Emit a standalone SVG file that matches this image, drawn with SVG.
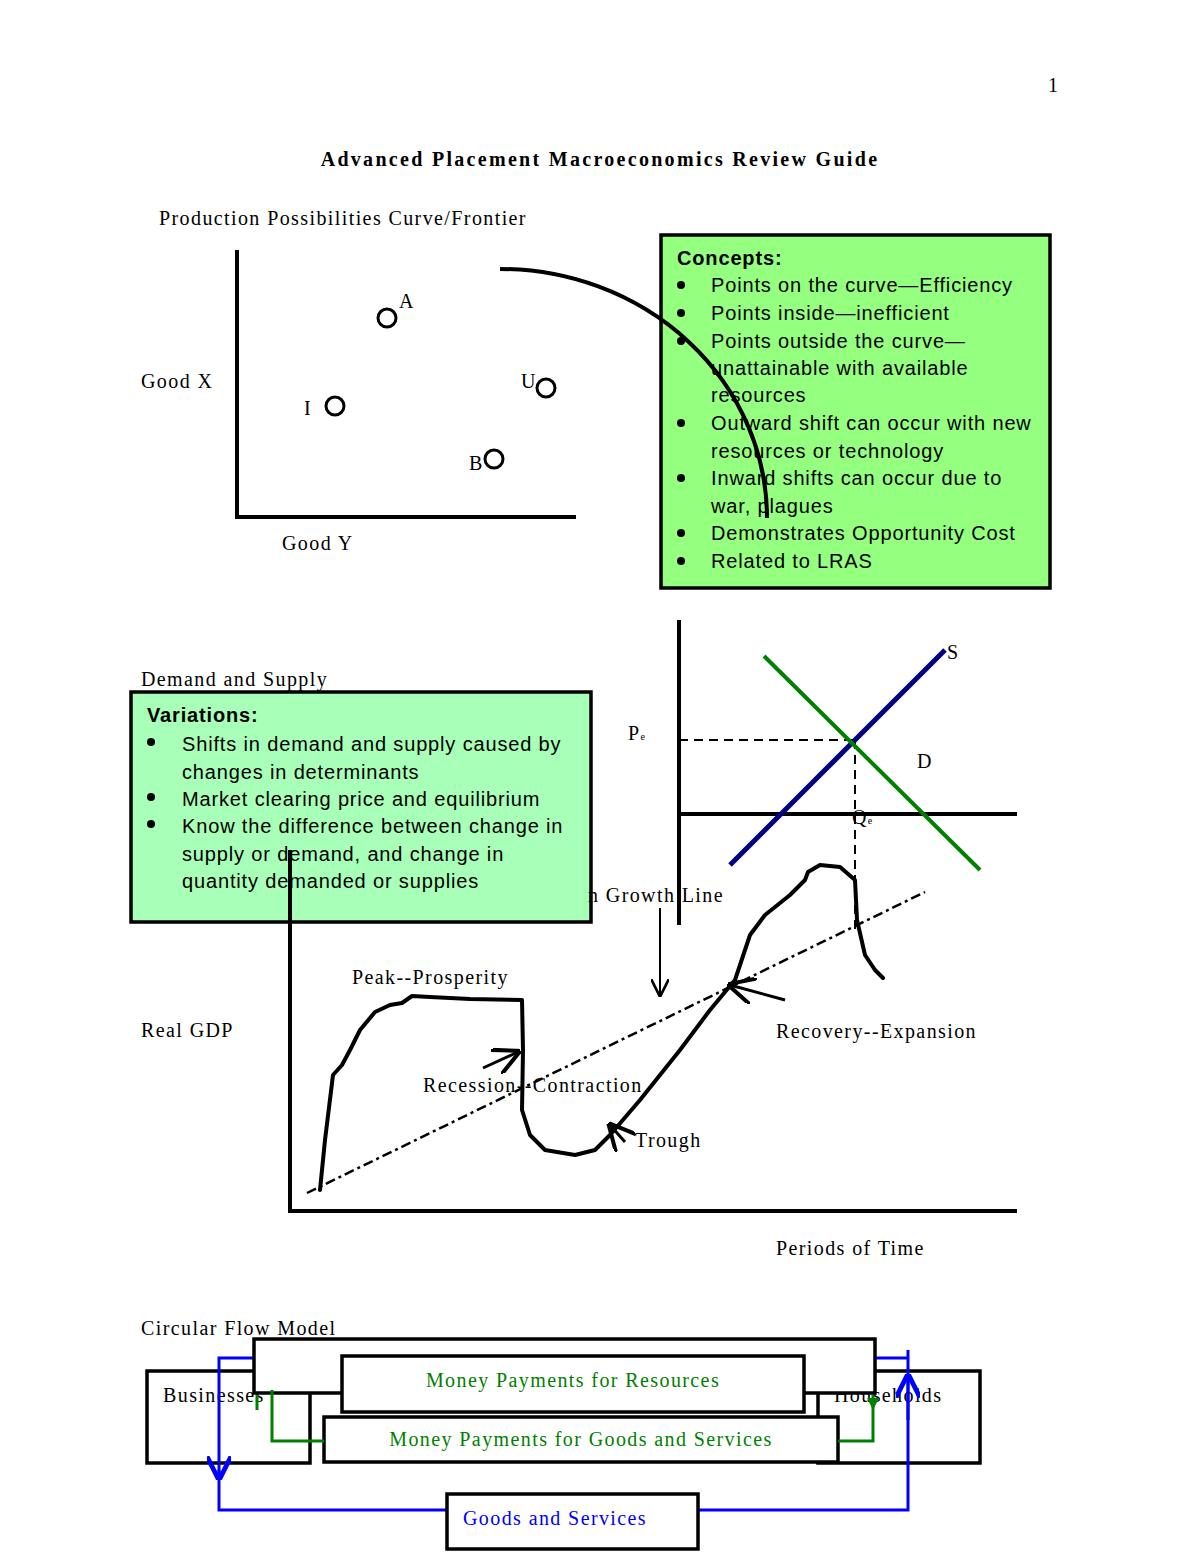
<svg xmlns="http://www.w3.org/2000/svg" width="1200" height="1553" viewBox="0 0 1200 1553">
<defs>
<style>
.s{font-family:"Liberation Serif",serif;font-size:20px;fill:#000;letter-spacing:1.4px}
.ss{font-family:"Liberation Sans",sans-serif;font-size:20px;fill:#000;letter-spacing:0.85px}
.ax{stroke:#000;stroke-width:4;fill:none}
.box{stroke:#000;stroke-width:3.5}
.th{stroke:#000;stroke-width:4;fill:none;stroke-linejoin:round;stroke-linecap:round}
</style>
<marker id="ab" viewBox="0 0 10 10" refX="9" refY="5" markerWidth="8" markerHeight="8" orient="auto"><path d="M0,0 L10,5 L0,10" fill="none" stroke="blue" stroke-width="2"/></marker>
<marker id="ak" viewBox="0 0 10 10" refX="9" refY="5" markerWidth="9" markerHeight="9" orient="auto"><path d="M0,0 L10,5 L0,10" fill="none" stroke="#000" stroke-width="1.5"/></marker>
</defs>
<rect width="1200" height="1553" fill="#fff"/>
<text class="s" x="1048" y="92">1</text>
<text class="s" x="600" y="166" text-anchor="middle" font-weight="bold" font-size="24" style="letter-spacing:2.3px">Advanced Placement Macroeconomics Review Guide</text>

<g id="ppc">
<text class="s" x="159" y="225">Production Possibilities Curve/Frontier</text>
<path class="ax" d="M237,250 V517 H576"/>
<text class="s" x="141" y="388">Good X</text>
<text class="s" x="282" y="550">Good Y</text>
<g fill="none" stroke="#000" stroke-width="3">
<circle cx="387" cy="318" r="9"/><circle cx="335" cy="406" r="9"/><circle cx="546" cy="388" r="9"/><circle cx="494" cy="459" r="9"/>
</g>
<text class="s" x="399" y="308">A</text><text class="s" x="304" y="415">I</text><text class="s" x="521" y="388">U</text><text class="s" x="469" y="470">B</text>
</g>

<g id="concepts">
<rect x="661" y="235" width="389" height="353" fill="#95ff80" class="box"/>
<text class="ss" x="677" y="265" font-weight="bold" font-size="22">Concepts:</text>
<g class="ss">
<text x="711" y="292">Points on the curve—Efficiency</text>
<text x="711" y="320">Points inside—inefficient</text>
<text x="711" y="348">Points outside the curve—</text>
<text x="711" y="375">unattainable with available</text>
<text x="711" y="402">resources</text>
<text x="711" y="430">Outward shift can occur with new</text>
<text x="711" y="458">resources or technology</text>
<text x="711" y="485">Inward shifts can occur due to</text>
<text x="711" y="513">war, plagues</text>
<text x="711" y="540">Demonstrates Opportunity Cost</text>
<text x="711" y="568">Related to LRAS</text>
</g>
<g fill="#000"><circle cx="681" cy="285" r="4"/><circle cx="681" cy="313" r="4"/><circle cx="681" cy="341" r="4"/><circle cx="681" cy="423" r="4"/><circle cx="681" cy="478" r="4"/><circle cx="681" cy="533" r="4"/><circle cx="681" cy="561" r="4"/></g>
</g>
<path class="ax" d="M500,269 A267,249 0 0 1 767,518"/>

<g id="ds">
<text class="s" x="141" y="686">Demand and Supply</text>
<path class="ax" d="M679,620 V925 M679,814 H1017"/>
<path d="M679,740 H853 M855,740 V935" stroke="#000" stroke-width="2" stroke-dasharray="9,6" fill="none"/>
<line x1="730" y1="865" x2="945" y2="650" stroke="#000080" stroke-width="5"/>
<line x1="764" y1="656" x2="980" y2="870" stroke="#008000" stroke-width="4"/>
<text class="s" x="628" y="740">P<tspan font-size="10">e</tspan></text>
<text class="s" x="947" y="659">S</text>
<text class="s" x="917" y="768">D</text>
<text class="s" x="852" y="824">Q<tspan font-size="10">e</tspan></text>
</g>

<g id="variations">
<rect x="131" y="692" width="460" height="230" fill="#a8ffb8" class="box"/>
<text class="ss" x="147" y="722" font-weight="bold" font-size="22">Variations:</text>
<g class="ss">
<text x="182" y="751">Shifts in demand and supply caused by</text>
<text x="182" y="779">changes in determinants</text>
<text x="182" y="806">Market clearing price and equilibrium</text>
<text x="182" y="833">Know the difference between change in</text>
<text x="182" y="861">supply or demand, and change in</text>
<text x="182" y="888">quantity demanded or supplies</text>
</g>
<g fill="#000"><circle cx="151" cy="742" r="4"/><circle cx="151" cy="797" r="4"/><circle cx="151" cy="824" r="4"/></g>
</g>

<g id="cycle">
<path class="ax" d="M290,850 V1211 H1017"/>
<text class="s" x="141" y="1037">Real GDP</text>
<text class="s" x="776" y="1255">Periods of Time</text>
<text class="s" x="588" y="902">n Growth Line</text>
<text class="s" x="352" y="984">Peak--Prosperity</text>
<text class="s" x="423" y="1092">Recession--Contraction</text>
<text class="s" x="635" y="1147">Trough</text>
<text class="s" x="776" y="1038">Recovery--Expansion</text>
<line x1="307" y1="1193" x2="925" y2="892" stroke="#000" stroke-width="2.5" stroke-dasharray="10,4,3,4"/>
<path class="th" d="M320,1190 L325,1140 L333,1075 L342,1065 L350,1050 L360,1030 L375,1012 L390,1005 L402,1003 L412,996 L430,997 L470,999 L522,1000 L523,1050 L522,1110 L530,1135 L545,1150 L575,1155 L595,1150 L610,1135 L640,1100 L680,1050 L710,1010 L735,980 L745,950 L750,935 L765,915 L790,895 L805,880 L808,872 L820,865 L840,867 L855,880 L857,920 L865,955 L875,970 L883,978"/>
<line x1="660" y1="908" x2="660" y2="995" stroke="#000" stroke-width="2" marker-end="url(#ak)"/>
<line x1="785" y1="1000" x2="730" y2="985" stroke="#000" stroke-width="3" marker-end="url(#ak)"/>
<line x1="483" y1="1068" x2="518" y2="1052" stroke="#000" stroke-width="3" marker-end="url(#ak)"/>
<line x1="625" y1="1142" x2="610" y2="1125" stroke="#000" stroke-width="3" marker-end="url(#ak)"/>
</g>

<text class="s" x="141" y="1335">Circular Flow Model</text>
<g id="businesses"><rect x="147" y="1371" width="163" height="92" fill="#fff" class="box"/><text class="s" x="163" y="1402">Businesses</text></g>
<g id="households"><rect x="818" y="1371" width="162" height="92" fill="#fff" class="box"/><text class="s" x="834" y="1402">Households</text></g>
<g id="connectors">
<path d="M254,1358 H219 V1478" fill="none" stroke="blue" stroke-width="3" marker-end="url(#ab)"/>
<path d="M219,1470 V1510 H447 M698,1510 H908 V1350" fill="none" stroke="blue" stroke-width="3"/>
<path d="M908,1420 V1376" fill="none" stroke="blue" stroke-width="3" marker-end="url(#ab)"/>
<path d="M875,1358 H908" stroke="blue" stroke-width="3"/>
</g>
<g id="outer"><rect x="254" y="1339" width="621" height="54" fill="#fff" class="box"/></g>
<g id="resources"><rect x="342" y="1356" width="462" height="56" fill="#fff" class="box"/><text class="s" x="573" y="1387" text-anchor="middle" style="fill:#008000">Money Payments for Resources</text></g>
<g id="goodsmoney"><rect x="324" y="1417" width="514" height="45" fill="#fff" class="box"/><text class="s" x="581" y="1446" text-anchor="middle" style="fill:#008000">Money Payments for Goods and Services</text></g>
<g id="green">
<path d="M324,1441 H272 V1390 M257,1395 V1410" fill="none" stroke="#008000" stroke-width="3"/>
<path d="M838,1441 H873 V1395" fill="none" stroke="#008000" stroke-width="3"/>
<path d="M867,1398 L879,1398 L873,1410 Z" fill="#008000"/>
</g>
<g id="goods"><rect x="447" y="1494" width="251" height="55" fill="#fff" class="box"/><text class="s" x="463" y="1525" style="fill:blue">Goods and Services</text></g>
</svg>
